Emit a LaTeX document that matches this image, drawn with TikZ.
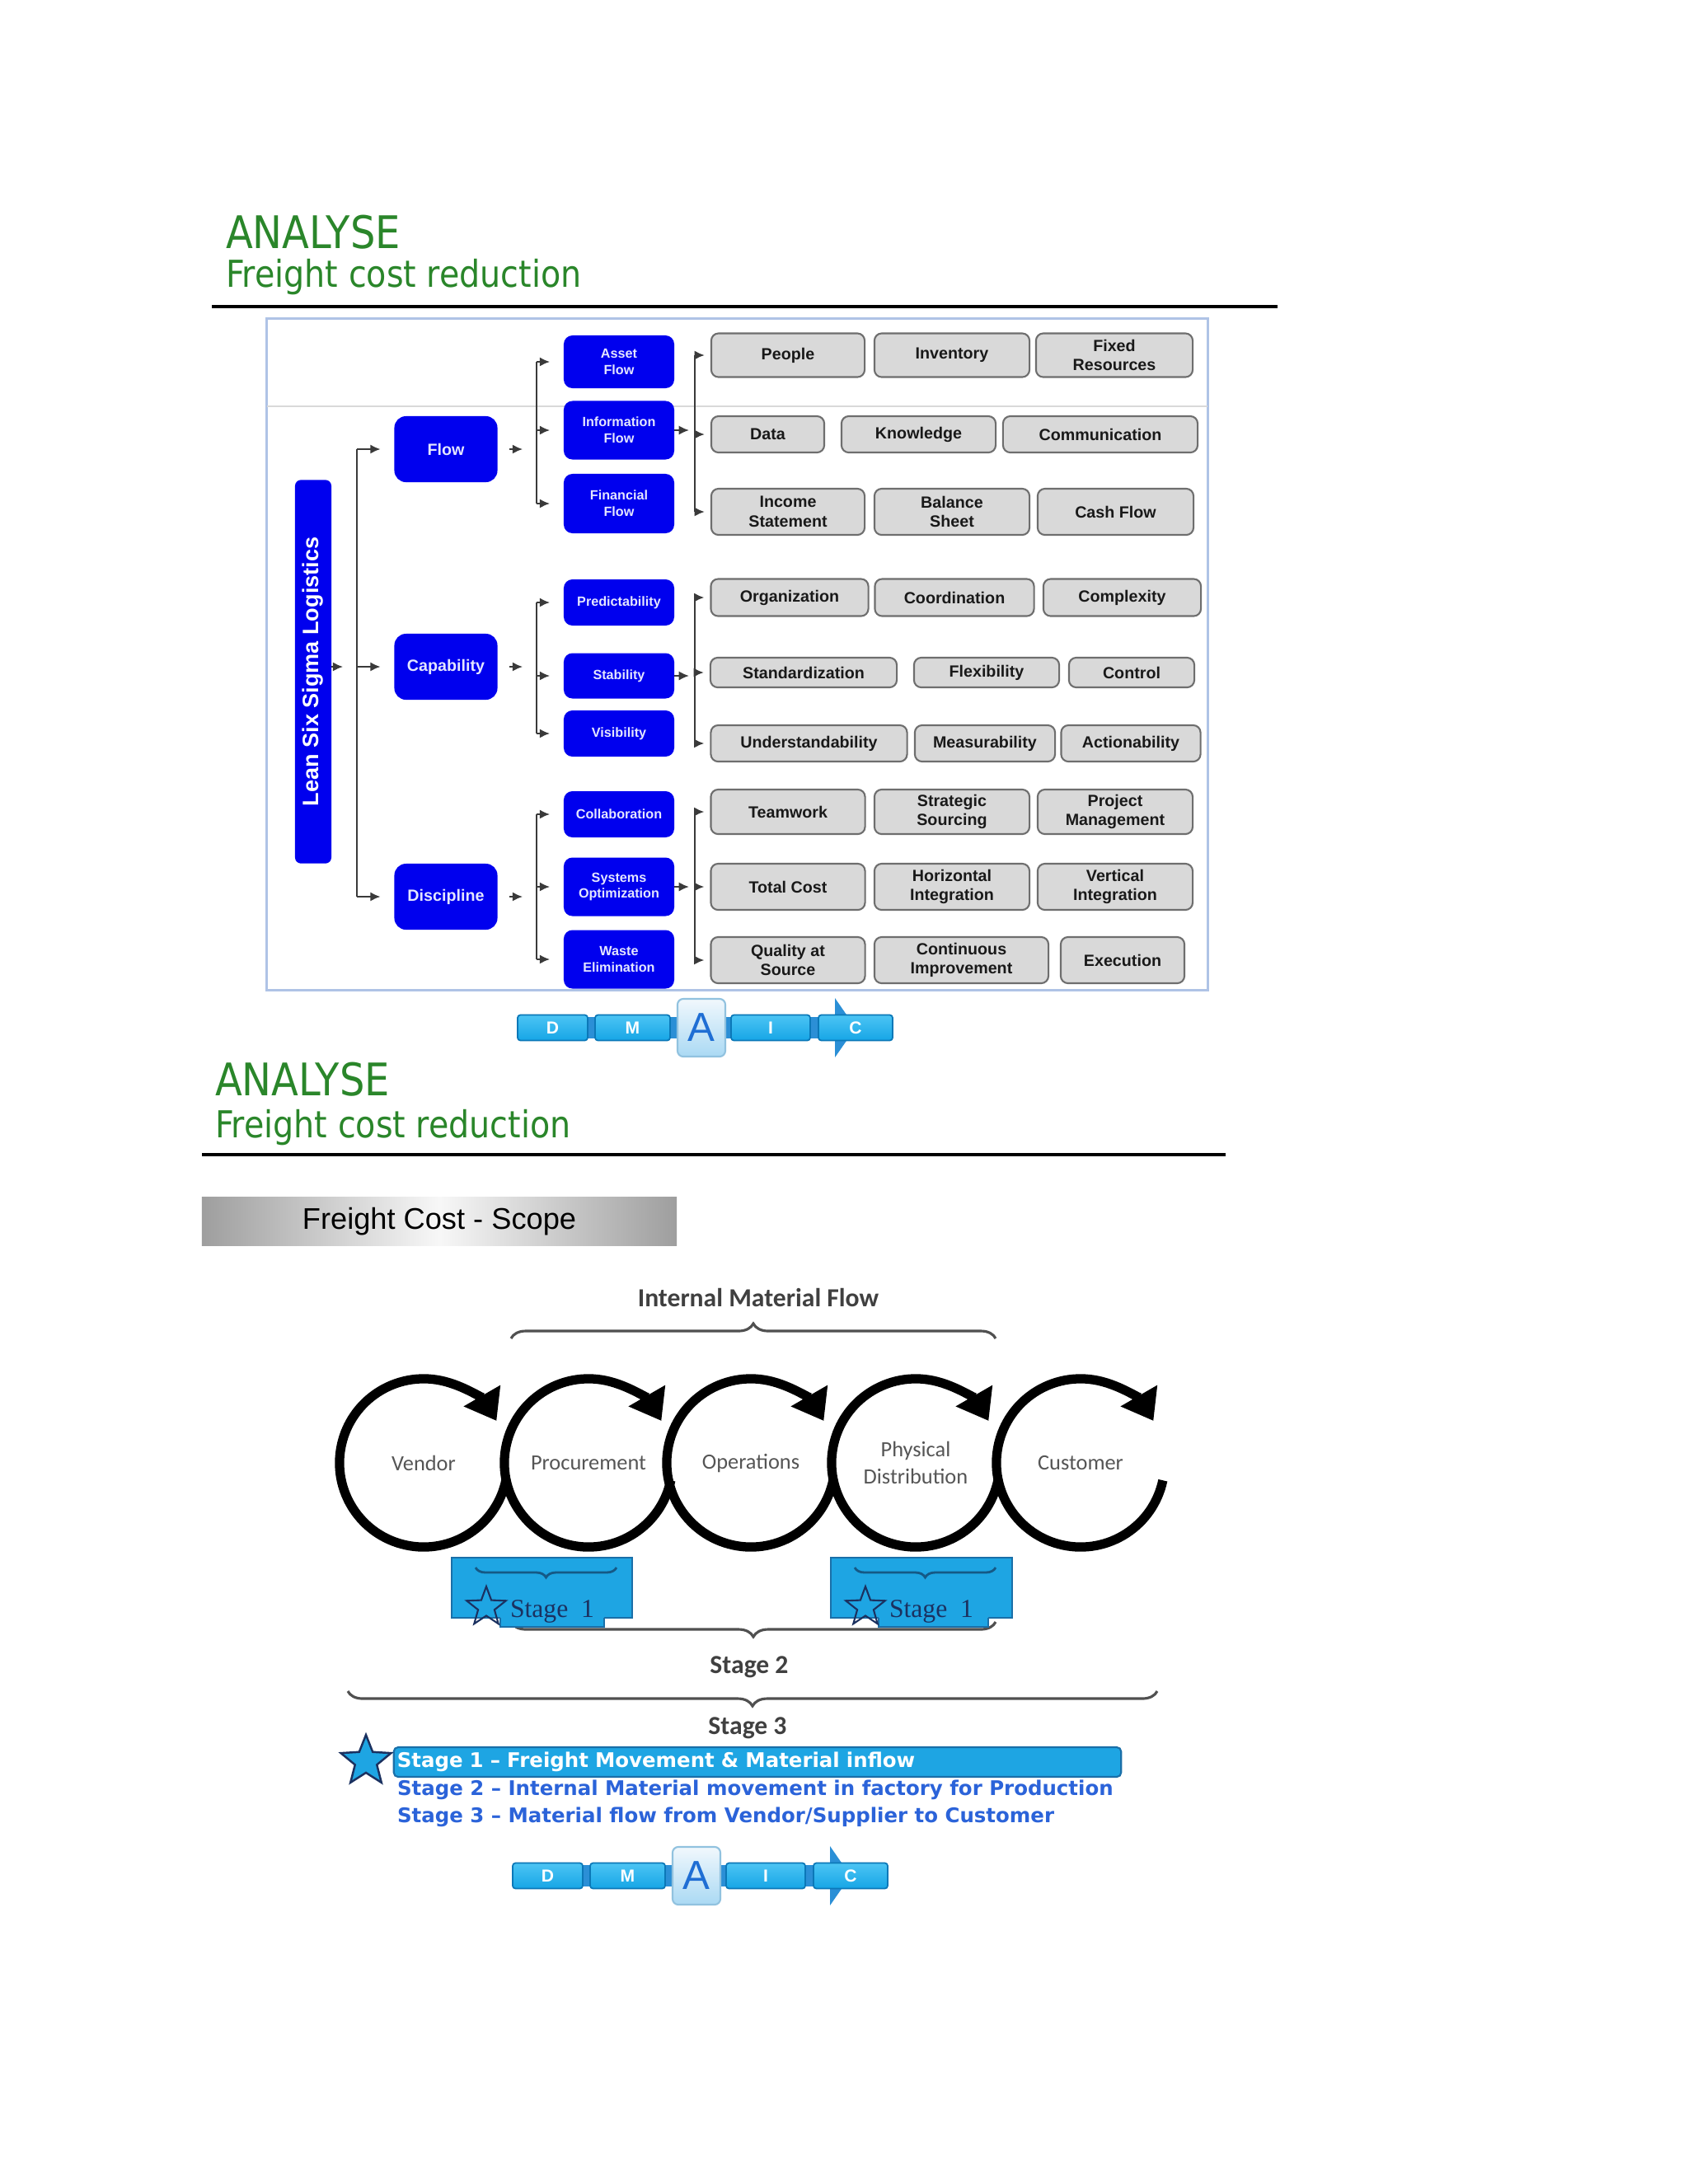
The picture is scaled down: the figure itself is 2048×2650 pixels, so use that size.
\documentclass[tikz,border=0pt]{standalone}
\usepackage{fontspec}
\setmainfont{Liberation Sans}
\newfontfamily\hdrfont[FakeStretch=0.88]{DejaVu Sans}
\newfontfamily\stagefont{DejaVu Sans}
\newfontfamily\calfont{Carlito}
\newfontfamily\serffont{Liberation Serif}
\usetikzlibrary{arrows.meta, positioning, shapes.geometric, decorations.pathreplacing}
\definecolor{hdrgreen}{HTML}{2A862A}
\definecolor{lssblue}{HTML}{0000EE}
\definecolor{lvltext}{HTML}{E4E6FF}
\definecolor{boxgray}{HTML}{D9D9D9}
\definecolor{boxline}{HTML}{6E6E6E}
\definecolor{framecol}{HTML}{AFC3E6}
\definecolor{wirecol}{HTML}{3A3A3A}
\definecolor{dmaiccyan}{HTML}{16A6E6}
\definecolor{dmaictop}{HTML}{4CC4F4}
\definecolor{dmaicdark}{HTML}{0B78B8}
\definecolor{dmaicshaft}{HTML}{2B8FD6}
\definecolor{dmaictile}{HTML}{CFE6F7}
\definecolor{dmaicA}{HTML}{1F6ED4}
\definecolor{stagecyan}{HTML}{1EA5E3}
\definecolor{stageedge}{HTML}{1A6FA8}
\definecolor{stageblue}{HTML}{2B63D9}
\definecolor{navyline}{HTML}{1B3160}
\definecolor{cyctext}{HTML}{555555}
\definecolor{bracegray}{HTML}{505050}

\begin{document}
\begin{tikzpicture}[
        x=0.01cm, y=-0.01cm,
        every node/.style={align=center, outer sep=0pt},
        hdr/.style={anchor=base west, inner sep=0pt, text=hdrgreen,
                    font=\hdrfont\fontsize{15.5}{18}\selectfont},
        hdrsub/.style={hdr, font=\hdrfont\fontsize{12.8}{15}\selectfont},
        rule/.style={line width=1.4pt, black},
        frame/.style={rectangle, draw=framecol, line width=0.8pt,
                      minimum width=11.41cm, minimum height=8.14cm, inner sep=0pt},
        sepline/.style={draw=black!15, line width=0.8pt},
        lss/.style={rectangle, rounded corners=2pt, fill=lssblue, text=white,
                    minimum width=0.44cm, minimum height=4.65cm, inner sep=0pt,
                    font=\bfseries\fontsize{7.7}{9}\selectfont},
        lvlone/.style={rectangle, rounded corners=4pt, fill=lssblue, text=lvltext,
                       minimum width=1.25cm, minimum height=0.8cm, inner sep=1pt,
                       font=\bfseries\fontsize{5.6}{6.7}\selectfont},
        lvltwo/.style={lvlone, rounded corners=3pt, minimum width=1.34cm,
                       font=\bfseries\fontsize{4.6}{5.6}\selectfont},
        cell/.style={rectangle, rounded corners=2.5pt, fill=boxgray, draw=boxline,
                     line width=0.6pt, text=black!90, inner sep=1pt,
                     font=\bfseries\fontsize{5.6}{6.7}\selectfont},
        wire/.style={line width=0.6pt, draw=wirecol},
        branch/.style={wire, -{Latex[length=3.5pt, width=3.2pt]}, shorten >=4.8pt},
        link/.style={branch, shorten <=4pt},
        midlink/.style={wire, -{Latex[length=3.5pt, width=3.2pt]}, shorten >=2pt},
        rowlink/.style={wire, -{Latex[length=3.5pt, width=3.2pt]}, shorten >=2.3pt},
        dseg/.style={rectangle, rounded corners=1pt, top color=dmaictop,
                     bottom color=dmaiccyan, draw=dmaicdark, line width=0.5pt,
                     minimum height=0.31cm, inner sep=0pt, text=white,
                     font=\bfseries\fontsize{6}{7}\selectfont},
        atile/.style={rectangle, rounded corners=2pt, top color=white!70!dmaictile,
                      bottom color=dmaictile!80!dmaiccyan, draw=dmaicdark!45,
                      line width=0.6pt, minimum width=0.58cm, minimum height=0.70cm,
                      inner sep=0pt, text=dmaicA, font=\fontsize{14}{16}\selectfont},
        dmaic/.pic={
            \fill[dmaicshaft] (0,-13) rectangle (455,13);
            \fill[dmaicshaft] (385,-36) -- (410,0) -- (385,36) -- cycle;
            \node[dseg, minimum width=0.85cm] (-d) at (42.5,0) {D};
            \node[dseg, minimum width=0.91cm] (-m) at (139.5,0) {M};
            \node[dseg, minimum width=0.96cm] (-i) at (307,0) {I};
            \node[dseg, minimum width=0.90cm] (-c) at (410,0) {C};
            \node[atile] (-a) at (223,0) {A};
        },
        banner/.style={rectangle, left color=black!38, right color=black!38,
                       middle color=black!3, minimum width=5.76cm,
                       minimum height=0.59cm, inner sep=0pt,
                       font=\fontsize{10.3}{12}\selectfont},
        flowlbl/.style={text=black!75, inner sep=0pt, anchor=base,
                        font=\calfont\bfseries\fontsize{9}{11}\selectfont},
        brace/.style={decorate, decoration={brace, amplitude=0.18cm},
                      line width=0.9pt, draw=bracegray},
        cyc/.style={line width=3.2pt, black, -{Triangle[length=10pt, width=14pt]}},
        cyclbl/.style={text=cyctext, inner sep=0pt,
                       font=\calfont\fontsize{7.5}{9.3}\selectfont},
        stagebox/.style={rectangle, fill=stagecyan, draw=stageedge, line width=0.6pt,
                         minimum width=2.19cm, minimum height=0.73cm, inner sep=0pt},
        innerbrace/.style={decorate, decoration={brace, amplitude=0.12cm},
                           line width=0.8pt, draw=stageedge!80!black},
        hollowstar/.style={star, star points=5, star point ratio=2.4,
                           minimum size=0.5cm, draw=navyline, line width=0.6pt,
                           inner sep=0pt},
        stagetxt/.style={anchor=base, inner sep=0pt, text=navyline,
                         font=\serffont\fontsize{9}{11}\selectfont},
        bigstar/.style={star, star points=5, star point ratio=2.3, minimum size=0.64cm,
                        fill=stagecyan, draw=navyline, line width=0.7pt, inner sep=0pt},
        hilite/.style={rectangle, rounded corners=1.5pt, fill=stagecyan, draw=stageedge,
                       line width=0.6pt, text=white, minimum height=0.36cm,
                       text width=8.74cm, align=left, inner xsep=0.04cm, inner ysep=0pt,
                       font=\stagefont\bfseries\fontsize{6.95}{8}\selectfont},
        stageline/.style={anchor=west, inner sep=0pt, text=stageblue,
                          font=\stagefont\bfseries\fontsize{6.95}{8}\selectfont}
    ]
        \path[use as bounding box, fill=white] (0,0) rectangle (2048,2650);

        % --- Encabezado 1 ---
        \node[hdr] (analyseA) at (274,301) {ANALYSE};
        \node[hdrsub] (freightA) at (274,348) {Freight cost reduction};
        \draw[rule] (257,372) -- (1550,372);

        % --- Arbol Lean Six Sigma ---
        \node[frame] (treeframe) at (894.5,794) {};
        \draw[sepline] (324,493) -- (1465,493);

        \node[lss] (lss) at (380,815) {\rotatebox{90}{Lean Six Sigma Logistics}};

        \node[lvlone] (flow) at (541,545) {Flow};
        \node[lvlone] (capab) at (541,809) {Capability};
        \node[lvlone] (discip) at (541,1088) {Discipline};

        \node[lvltwo, minimum height=0.64cm] (asset) at (751,439) {Asset\\Flow};
        \node[lvltwo, minimum height=0.71cm] (info) at (751,522) {Information\\Flow};
        \node[lvltwo, minimum height=0.72cm] (fin) at (751,611) {Financial\\Flow};
        \node[lvltwo, minimum height=0.56cm] (pred) at (751,731) {Predictability};
        \node[lvltwo, minimum height=0.55cm] (stab) at (751,820) {Stability};
        \node[lvltwo, minimum height=0.56cm] (visib) at (751,890) {Visibility};
        \node[lvltwo, minimum height=0.56cm] (collab) at (751,988) {Collaboration};
        \node[lvltwo, minimum height=0.71cm] (sysopt) at (751,1076) {Systems\\Optimization};
        \node[lvltwo, minimum height=0.71cm] (waste) at (751,1164) {Waste\\Elimination};

        \node[cell, minimum width=1.86cm, minimum height=0.53cm] (people) at (956,431) {People};
        \node[cell, minimum width=1.88cm, minimum height=0.53cm] (invent) at (1155,431) {Inventory};
        \node[cell, minimum width=1.90cm, minimum height=0.53cm] (fixres) at (1352,431) {Fixed\\Resources};
        \node[cell, minimum width=1.37cm, minimum height=0.44cm] (data) at (931.5,527) {Data};
        \node[cell, minimum width=1.87cm, minimum height=0.44cm] (knowl) at (1114.5,527) {Knowledge};
        \node[cell, minimum width=2.36cm, minimum height=0.44cm] (commun) at (1335,527) {Communication};
        \node[cell, minimum width=1.86cm, minimum height=0.56cm] (income) at (956,621) {Income\\Statement};
        \node[cell, minimum width=1.88cm, minimum height=0.56cm] (balance) at (1155,621) {Balance\\Sheet};
        \node[cell, minimum width=1.89cm, minimum height=0.56cm] (cashflow) at (1353.5,621) {Cash Flow};

        \node[cell, minimum width=1.91cm, minimum height=0.45cm] (organiz) at (958,725) {Organization};
        \node[cell, minimum width=1.93cm, minimum height=0.45cm] (coord) at (1158,725) {Coordination};
        \node[cell, minimum width=1.91cm, minimum height=0.45cm] (complex) at (1361.5,725) {Complexity};
        \node[cell, minimum width=2.26cm, minimum height=0.36cm] (standard) at (975,816) {Standardization};
        \node[cell, minimum width=1.76cm, minimum height=0.36cm] (flexib) at (1197,816) {Flexibility};
        \node[cell, minimum width=1.52cm, minimum height=0.36cm] (control) at (1373,816) {Control};
        \node[cell, minimum width=2.38cm, minimum height=0.44cm] (underst) at (981.5,902) {Understandability};
        \node[cell, minimum width=1.70cm, minimum height=0.44cm] (measur) at (1195,902) {Measurability};
        \node[cell, minimum width=1.69cm, minimum height=0.44cm] (action) at (1372,902) {Actionability};

        \node[cell, minimum width=1.87cm, minimum height=0.54cm] (teamw) at (956,985) {Teamwork};
        \node[cell, minimum width=1.88cm, minimum height=0.54cm] (strat) at (1155,985) {Strategic\\Sourcing};
        \node[cell, minimum width=1.88cm, minimum height=0.54cm] (projm) at (1353,985) {Project\\Management};
        \node[cell, minimum width=1.87cm, minimum height=0.56cm] (totcost) at (956,1076) {Total Cost};
        \node[cell, minimum width=1.88cm, minimum height=0.56cm] (horiz) at (1155,1076) {Horizontal\\Integration};
        \node[cell, minimum width=1.88cm, minimum height=0.56cm] (vert) at (1353,1076) {Vertical\\Integration};
        \node[cell, minimum width=1.87cm, minimum height=0.56cm] (quality) at (956,1165) {Quality at\\Source};
        \node[cell, minimum width=2.11cm, minimum height=0.56cm] (contin) at (1166.5,1165) {Continuous\\Improvement};
        \node[cell, minimum width=1.50cm, minimum height=0.56cm] (execut) at (1362,1165) {Execution};

        % troncos de conexion
        \coordinate (trunkA) at (433,0);
        \coordinate (trunkB) at (651,0);
        \coordinate (trunkC) at (843,0);

        \draw[branch] (lss.east |- capab) -- (trunkA |- capab);
        \draw[wire] (trunkA |- flow) -- (trunkA |- discip);
        \draw[branch] (trunkA |- flow) -- (flow);
        \draw[branch] (trunkA |- capab) -- (capab);
        \draw[branch] (trunkA |- discip) -- (discip);

        \draw[link] (flow) -- (trunkB |- flow);
        \draw[wire] (trunkB |- asset) -- (trunkB |- fin);
        \draw[branch] (trunkB |- asset) -- (asset);
        \draw[branch] (trunkB |- info) -- (info);
        \draw[branch] (trunkB |- fin) -- (fin);

        \draw[link] (capab) -- (trunkB |- capab);
        \draw[wire] (trunkB |- pred) -- (trunkB |- visib);
        \draw[branch] (trunkB |- pred) -- (pred);
        \draw[branch] (trunkB |- stab) -- (stab);
        \draw[branch] (trunkB |- visib) -- (visib);

        \draw[link] (discip) -- (trunkB |- discip);
        \draw[wire] (trunkB |- collab) -- (trunkB |- waste);
        \draw[branch] (trunkB |- collab) -- (collab);
        \draw[branch] (trunkB |- sysopt) -- (sysopt);
        \draw[branch] (trunkB |- waste) -- (waste);

        \draw[midlink] (info) -- (trunkC |- info);
        \draw[wire] (trunkC |- people) -- (trunkC |- income);
        \draw[rowlink] (trunkC |- people) -- (people);
        \draw[rowlink] (trunkC |- data) -- (data);
        \draw[rowlink] (trunkC |- income) -- (income);

        \draw[midlink] (stab) -- (trunkC |- stab);
        \draw[wire] (trunkC |- organiz) -- (trunkC |- underst);
        \draw[rowlink] (trunkC |- organiz) -- (organiz);
        \draw[rowlink] (trunkC |- standard) -- (standard);
        \draw[rowlink] (trunkC |- underst) -- (underst);

        \draw[midlink] (sysopt) -- (trunkC |- sysopt);
        \draw[wire] (trunkC |- teamw) -- (trunkC |- quality);
        \draw[rowlink] (trunkC |- teamw) -- (teamw);
        \draw[rowlink] (trunkC |- totcost) -- (totcost);
        \draw[rowlink] (trunkC |- quality) -- (quality);

        \pic (dmA) at (628,1247) {dmaic};

        % --- Encabezado 2 ---
        \node[hdr] (analyseB) at (261,1329) {ANALYSE};
        \node[hdrsub] (freightB) at (261,1380) {Freight cost reduction};
        \draw[rule] (245,1401) -- (1487,1401);

        \node[banner] (scope) at (533,1482) {Freight Cost - Scope};

        % --- Ciclos del flujo de material ---
        \node[flowlbl] (imflow) at (920,1585) {Internal Material Flow};
        \draw[brace] (620,1624) -- (1208,1624);

        \coordinate (cVendor) at (514,1775);
        \coordinate (cProcure) at (714,1775);
        \coordinate (cOper) at (911,1775);
        \coordinate (cPhys) at (1111,1775);
        \coordinate (cCust) at (1311,1775);
        \draw[cyc] ([shift={(-12:1.02cm)}]cVendor) arc[start angle=-12, end angle=-330, radius=1.02cm];
        \draw[cyc] ([shift={(-12:1.02cm)}]cProcure) arc[start angle=-12, end angle=-330, radius=1.02cm];
        \draw[cyc] ([shift={(-12:1.02cm)}]cOper) arc[start angle=-12, end angle=-330, radius=1.02cm];
        \draw[cyc] ([shift={(-12:1.02cm)}]cPhys) arc[start angle=-12, end angle=-330, radius=1.02cm];
        \draw[cyc] ([shift={(-12:1.02cm)}]cCust) arc[start angle=-12, end angle=-330, radius=1.02cm];
        \node[cyclbl] (vendor) at (cVendor) {Vendor};
        \node[cyclbl] (procure) at (cProcure) {Procurement};
        \node[cyclbl] (oper) at (cOper) {Operations};
        \node[cyclbl] (physdist) at (cPhys) {Physical\\Distribution};
        \node[cyclbl] (customer) at (cCust) {Customer};

        % --- Etapas ---
        \draw[brace] (1208,1968) -- (620,1968);
        \node[flowlbl] (stagetwo) at (909,2030) {Stage 2};
        \draw[brace] (1404,2052) -- (422,2052);
        \node[flowlbl] (stagethree) at (907,2104) {Stage 3};

        \node[stagebox] (stoneL) at (657.5,1926.5) {};
        \fill[stagecyan] (607,1960) rectangle (733,1974);
        \draw[stageedge, line width=0.6pt] (607,1963) -- (607,1974) -- (733,1974) -- (733,1963);
        \draw[innerbrace] (748,1902) -- (577,1902);
        \node[hollowstar] (starL) at (590,1950) {};
        \node[stagetxt] (stonetxtL) at (670,1962) {Stage~~1};

        \node[stagebox] (stoneR) at (1118,1926.5) {};
        \fill[stagecyan] (1066,1960) rectangle (1199,1974);
        \draw[stageedge, line width=0.6pt] (1066,1963) -- (1066,1974) -- (1199,1974) -- (1199,1963);
        \draw[innerbrace] (1208,1902) -- (1037,1902);
        \node[hollowstar] (starR) at (1050,1950) {};
        \node[stagetxt] (stonetxtR) at (1130,1962) {Stage~~1};

        \node[hilite] (lineone) at (919,2138) {Stage 1 – Freight Movement \& Material inflow};
        \node[bigstar] (bigstar) at (444,2137) {};
        \node[stageline] (linetwo) at (482,2172) {Stage 2 – Internal Material movement in factory for Production};
        \node[stageline] (linethree) at (482,2205) {Stage 3 – Material flow from Vendor/Supplier to Customer};

        \pic (dmB) at (622,2276) {dmaic};
    \end{tikzpicture}
\end{document}
